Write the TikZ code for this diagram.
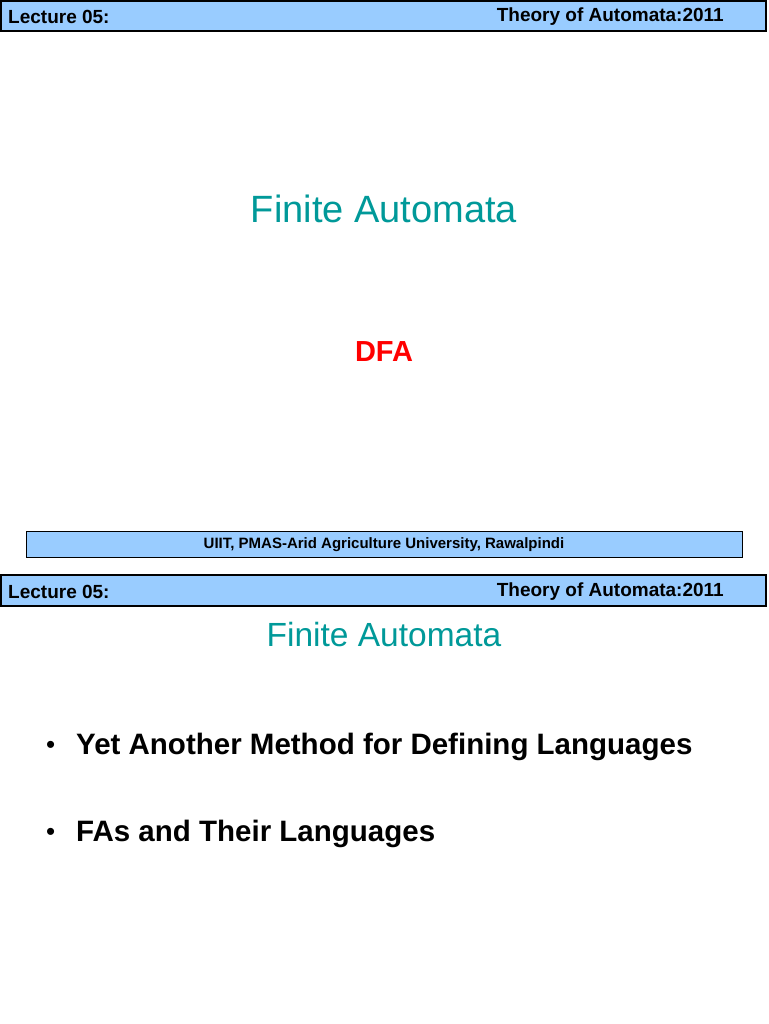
\documentclass[tikz,border=0pt]{standalone}
\usepackage{fontspec}
\setmainfont{Liberation Sans}
\definecolor{hdr}{RGB}{153,204,255}
\definecolor{teal}{RGB}{0,153,153}
\begin{document}
\begin{tikzpicture}[x=1pt,y=-1pt,
  bar/.style={draw=black,line width=1.2pt,fill=hdr},
  htext/.style={font=\fontsize{19}{22}\selectfont\bfseries,inner sep=0pt},
  ttl/.style={text=teal,inner sep=0pt},
  bul/.style={font=\fontsize{29.5}{34}\selectfont\bfseries,anchor=west,inner sep=0pt}]
\useasboundingbox (0,0) rectangle (768,1024);
\fill[white] (0,0) rectangle (768,1024);
% slide 1
\draw[bar] (1,1) rectangle (766,31);
\node[htext,anchor=west] (l1) at (8,17) {Lecture 05:};
\node[htext,anchor=east] (r1) at (724,17) {Theory of Automata:2011};
\node[ttl,font=\fontsize{38}{44}\selectfont] (t1) at (384,209) {Finite Automata};
\node[text=red,font=\fontsize{29}{34}\selectfont\bfseries,inner sep=0pt] (dfa) at (384,352) {DFA};
\draw[bar,line width=0.8pt] (26,531) rectangle (742,557);
\node[inner sep=0pt,font=\fontsize{15}{17}\selectfont\bfseries] (f1) at (384,545) {UIIT, PMAS-Arid Agriculture University, Rawalpindi};
% slide 2
\draw[bar] (1,575) rectangle (766,606);
\node[htext,anchor=west] (l2) at (8,592) {Lecture 05:};
\node[htext,anchor=east] (r2) at (724,592) {Theory of Automata:2011};
\node[ttl,font=\fontsize{33.5}{38}\selectfont] (t2) at (384,635) {Finite Automata};
\node[bul,font=\fontsize{26}{30}\selectfont] (d1) at (46,747) {•};
\node[bul] (b1) at (76,747) {Yet Another Method for Defining Languages};
\node[bul,font=\fontsize{26}{30}\selectfont] (d2) at (46,834) {•};
\node[bul] (b2) at (76,834) {FAs and Their Languages};
\end{tikzpicture}
\end{document}
